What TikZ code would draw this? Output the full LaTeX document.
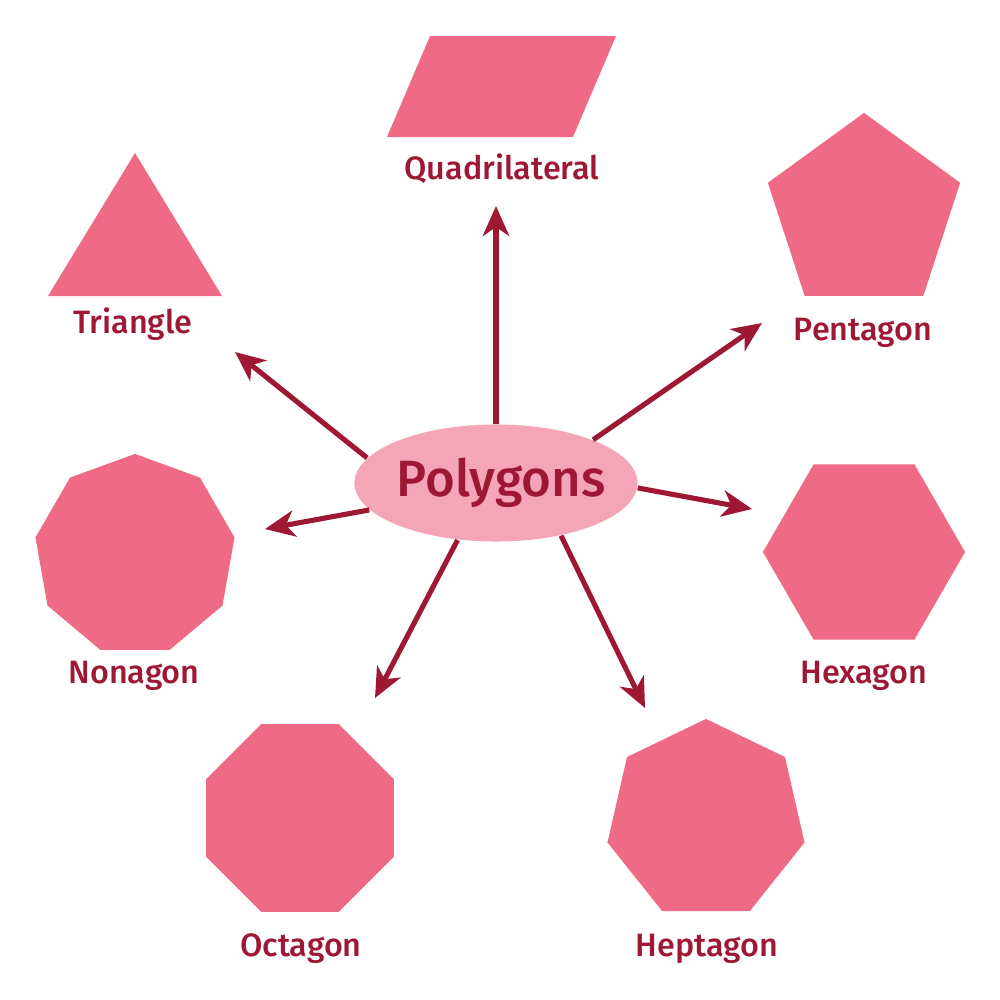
\documentclass[tikz,border=0pt]{standalone}
\usepackage{fontspec}
\setmainfont{Fira Sans}[BoldFont={* Medium}]
\usetikzlibrary{shapes.geometric,arrows.meta}

\definecolor{shapefill}{RGB}{239,107,133}
\definecolor{hubfill}{RGB}{245,165,184}
\definecolor{ink}{RGB}{158,24,52}

\tikzset{
  poly/.style={regular polygon, regular polygon sides=#1, fill=shapefill,
    minimum size=2.02cm, inner sep=0pt},
  polylabel/.style={font=\bfseries\fontsize{9.2}{11}\selectfont, text=ink, anchor=base},
  spoke/.style={draw=ink, line width=1.45pt,
    -{Stealth[length=8.5pt,width=7.5pt,inset=2.5pt]}}
}

\begin{document}
\begin{tikzpicture}[x=0.01cm, y=-0.01cm]
  \useasboundingbox (0,0) rectangle (1000,1000);

  % shapes
  \fill[shapefill] (430,36) -- (616,36) -- (573,137) -- (387,137) -- cycle;
  \fill[shapefill] (135,153) -- (222,296) -- (48,296) -- cycle;
  \node[poly=5] (pentagon) at (864,214) {};
  \node[poly=6] (hexagon) at (864,552) {};
  \node[poly=7] (heptagon) at (706,820) {};
  \node[poly=8, minimum size=2.03cm] (octagon) at (300,818) {};
  \node[poly=9] (nonagon) at (135,555) {};

  % labels
  \node[polylabel] (quadlabel) at (502,179) {Quadrilateral};
  \node[polylabel] (trilabel) at (133,333) {Triangle};
  \node[polylabel] (pentlabel) at (863,340) {Pentagon};
  \node[polylabel] (hexlabel) at (864,683) {Hexagon};
  \node[polylabel] (heptlabel) at (707,956) {Heptagon};
  \node[polylabel] (octlabel) at (301,956) {Octagon};
  \node[polylabel] (nonlabel) at (134,683) {Nonagon};

  \node[ellipse, fill=hubfill, inner sep=0pt, minimum width=2.83cm, minimum height=1.17cm,
    label={[text=ink, font=\bfseries\fontsize{14.5}{16}\selectfont, xshift=0.05cm]center:Polygons}]
    (hub) at (496,483) {};

  % arrow ends
  \coordinate (quad-tip) at (496,206);
  \coordinate (tri-tip) at (235,352);
  \coordinate (pent-tip) at (762,323);
  \coordinate (hex-tip) at (752,509);
  \coordinate (non-tip) at (265,529);
  \coordinate (oct-tip) at (375,698);
  \coordinate (hept-tip) at (645,708);

  \foreach \ang/\tip in {90/quad, 169/tri, 24/pent, 358/hex, 192/non, 236/oct, 321/hept}
    \draw[spoke] (hub.\ang) -- (\tip-tip);
\end{tikzpicture}
\end{document}
